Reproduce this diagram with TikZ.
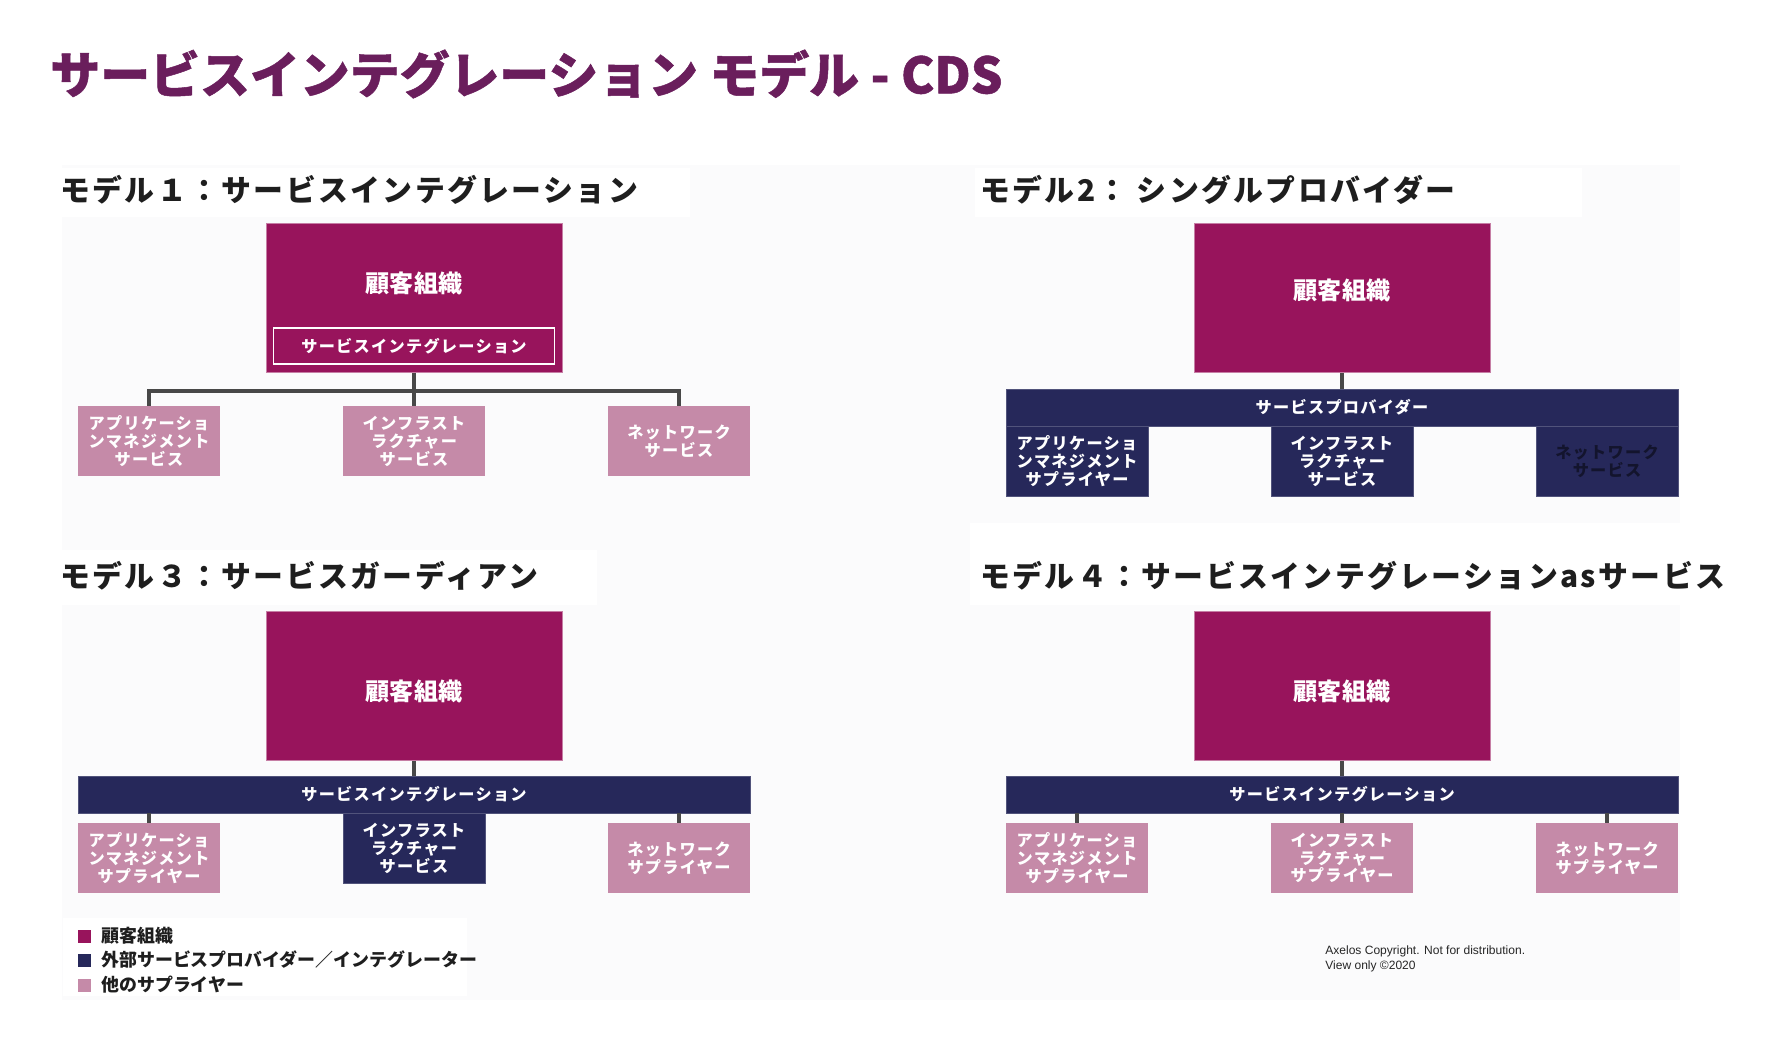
\documentclass[tikz,border=0pt]{standalone}
\usepackage{fontspec}
\newfontfamily\jpfont{Noto Sans CJK JP}
\newfontfamily\jptitle{Noto Sans CJK JP}[BoldFeatures={FakeBold=1}]
\newfontfamily\jpsp{Noto Sans CJK JP}[LetterSpace=8]
\newfontfamily\jphead{Noto Sans CJK JP}[LetterSpace=8]
\newfontfamily\cpfont{Liberation Sans}
\definecolor{custmag}{RGB}{152,20,92}
\definecolor{provnavy}{RGB}{38,40,90}
\definecolor{suppink}{RGB}{197,138,168}
\definecolor{titlepur}{RGB}{106,30,92}
\definecolor{panelbg}{RGB}{251,251,252}
\definecolor{connline}{RGB}{72,72,72}
\definecolor{headtxt}{RGB}{30,30,30}
\newcommand{\boxfont}{\jpsp\bfseries\fontsize{9.2}{10.2}\selectfont}
\tikzstyle{cust_box}=[rectangle,fill=custmag,draw=custmag!55!white,line width=0.5pt,minimum width=5.92cm,minimum height=2.98cm,inner sep=0pt]
\tikzstyle{cust_txt}=[inner sep=0pt,text=white,font=\jpfont\bfseries\fontsize{13.7}{16}\selectfont]
\tikzstyle{inner_box}=[rectangle,draw=white,line width=1pt,minimum width=5.62cm,minimum height=0.72cm,inner sep=0pt,text=white,font=\boxfont]
\tikzstyle{sup_box}=[rectangle,fill=suppink,minimum width=2.84cm,minimum height=1.40cm,inner sep=0pt,text=white,align=center,font=\boxfont]
\tikzstyle{prov_box}=[sup_box,fill=provnavy,draw=provnavy!80!white,line width=0.4pt]
\tikzstyle{bar_box}=[rectangle,fill=provnavy,draw=provnavy!80!white,line width=0.4pt,minimum width=13.44cm,minimum height=0.74cm,inner sep=0pt,text=white,font=\boxfont]
\tikzstyle{conn}=[draw=connline,line width=2pt]
\tikzstyle{model_head}=[right,inner sep=0pt,text=headtxt,font=\jphead\bfseries\fontsize{17}{20}\selectfont]
\tikzstyle{leg_sq}=[rectangle,minimum size=0.26cm,inner sep=0pt]
\tikzstyle{leg_txt}=[right,inner sep=0pt,text=headtxt,font=\jpfont\bfseries\fontsize{10.2}{12}\selectfont]

\begin{document}
\begin{tikzpicture}[x=0.02cm,y=-0.02cm]
\useasboundingbox (0,0) rectangle (1770,1054);
% faint panels
\fill[panelbg] (62,165) rectangle (1680,1000);
\fill[white] (55,168) rectangle (690,217);
\fill[white] (975,168) rectangle (1582,217);
\fill[white] (55,550) rectangle (597,605);
\fill[white] (970,523) rectangle (1730,605);
\fill[white] (63,918) rectangle (467,996);

\node (title) at (50,74)[right,inner sep=0pt,text=titlepur,font=\jptitle\bfseries\fontsize{28.4}{33}\selectfont]{サービスインテグレーション モデル - CDS};

\node (h1) at (60,190)[model_head]{モデル１：サービスインテグレーション};
\node (h2) at (980,190)[model_head]{モデル2： シングルプロバイダー};
\node (h3) at (60,576)[model_head]{モデル３：サービスガーディアン};
\node (h4) at (980,576)[model_head]{モデル４：サービスインテグレーションasサービス};

% model 1
\node (c1) at (414,298)[cust_box]{};
\node (t1) at (414,283)[cust_txt]{顧客組織};
\node (s1) at (414,346)[inner_box]{サービスインテグレーション};
\node (a1) at (149,441)[sup_box]{アプリケーショ\\ンマネジメント\\サービス};
\node (i1) at (414,441)[sup_box]{インフラスト\\ラクチャー\\サービス};
\node (n1) at (679,441)[sup_box]{ネットワーク\\サービス};
\coordinate (j1) at (414,391);
\draw[conn] (c1.south) -- (j1);
\draw[conn] (a1.north) |- (j1) -| (n1.north);
\draw[conn] (j1) -- (i1.north);

% model 2
\node (c2) at (1342,298)[cust_box]{};
\node (t2) at (1342,290)[cust_txt]{顧客組織};
\node (b2) at (1342,407.5)[bar_box]{サービスプロバイダー};
\node (a2) at (1077,461.5)[prov_box]{アプリケーショ\\ンマネジメント\\サプライヤー};
\node (i2) at (1342,461.5)[prov_box]{インフラスト\\ラクチャー\\サービス};
\node (n2) at (1607,461.5)[prov_box,text=provnavy!50!black]{ネットワーク\\サービス};
\draw[conn] (c2) -- (b2);

% model 3
\node (c3) at (414,686)[cust_box]{};
\node (t3) at (414,691)[cust_txt]{顧客組織};
\node (b3) at (414,794.5)[bar_box]{サービスインテグレーション};
\node (a3) at (149,858)[sup_box]{アプリケーショ\\ンマネジメント\\サプライヤー};
\node (i3) at (414,848)[prov_box]{インフラスト\\ラクチャー\\サービス};
\node (n3) at (679,858)[sup_box]{ネットワーク\\サプライヤー};
\draw[conn] (c3) -- (b3);
\draw[conn] (a3.north) -- (a3.north |- b3.south);
\draw[conn] (n3.north) -- (n3.north |- b3.south);

% model 4
\node (c4) at (1342,686)[cust_box]{};
\node (t4) at (1342,691)[cust_txt]{顧客組織};
\node (b4) at (1342,794.5)[bar_box]{サービスインテグレーション};
\node (a4) at (1077,858)[sup_box]{アプリケーショ\\ンマネジメント\\サプライヤー};
\node (i4) at (1342,858)[sup_box]{インフラスト\\ラクチャー\\サプライヤー};
\node (n4) at (1607,858)[sup_box]{ネットワーク\\サプライヤー};
\draw[conn] (c4) -- (b4);
\draw[conn] (a4.north) -- (a4.north |- b4.south);
\draw[conn] (i4.north) -- (b4.south);
\draw[conn] (n4.north) -- (n4.north |- b4.south);

% legend
\node (lg1) at (84.5,936)[leg_sq,fill=custmag]{};\node (lt1) at (101,936)[leg_txt]{顧客組織};
\node (lg2) at (84.5,960)[leg_sq,fill=provnavy]{};\node (lt2) at (101,960)[leg_txt]{外部サービスプロバイダー／インテグレーター};
\node (lg3) at (84.5,985)[leg_sq,fill=suppink]{};\node (lt3) at (101,985)[leg_txt]{他のサプライヤー};

\node (copy) at (1325,959)[right,inner sep=0pt,align=left,text=black!85,font=\cpfont\fontsize{6.85}{8.4}\selectfont]{Axelos Copyright. Not for distribution.\\View only ©2020};

\end{tikzpicture}
\end{document}
